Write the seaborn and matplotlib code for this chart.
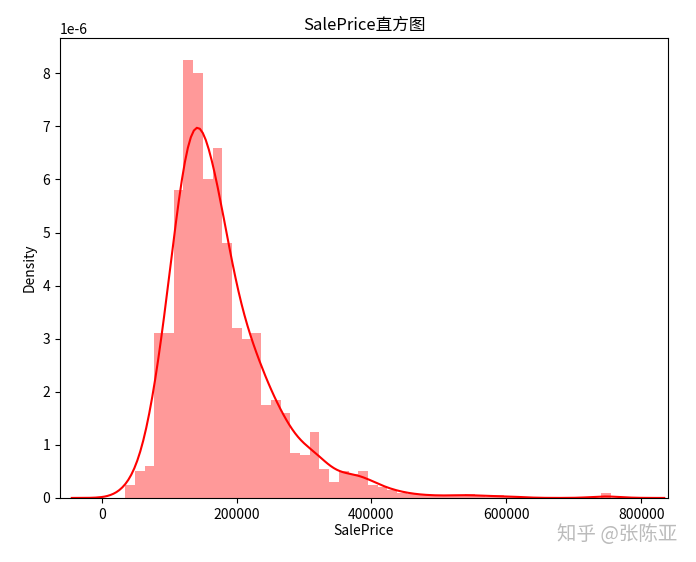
import numpy as np
import pandas as pd
import seaborn as sns
import matplotlib.pyplot as plt

plt.rcParams['font.family'] = ['Noto Sans CJK SC', 'DejaVu Sans']
plt.rcParams['axes.unicode_minus'] = False

# histogram: 50 bins from min to max SalePrice
price_min, price_max = 34900, 755000
density_e6 = [0.25, 0.5, 0.6, 3.1, 3.1, 5.8, 8.25, 8.0, 6.0, 6.6,
              4.8, 3.2, 3.0, 3.1, 1.75, 1.85, 1.6, 0.85, 0.8, 1.25,
              0.55, 0.3, 0.5, 0.45, 0.5, 0.25, 0.2, 0.15, 0.1, 0.07,
              0.05, 0.05, 0.04, 0.03, 0.06, 0.08, 0.03, 0.02, 0.05, 0.03,
              0.02, 0.0, 0.0, 0.0, 0.0, 0.0, 0.0, 0.0, 0.0, 0.1]

edges = np.linspace(price_min, price_max, len(density_e6) + 1)
df = pd.DataFrame({"SalePrice": (edges[:-1] + edges[1:]) / 2,
                   "w": np.array(density_e6) * 1e-6})

fig, ax = plt.subplots(figsize=(6.96, 5.62), dpi=100)
fig.subplots_adjust(left=0.086, right=0.96, top=0.932, bottom=0.114)
sns.histplot(data=df, x="SalePrice", weights="w", bins=len(density_e6),
             binrange=(price_min, price_max), stat="count",
             color="red", alpha=0.4, linewidth=0, ax=ax)
sns.kdeplot(data=df, x="SalePrice", weights="w", color="red", bw_adjust=0.45,
            linewidth=1.5, cut=2, ax=ax)
ax.set_title("SalePrice直方图")
ax.set_xlabel("SalePrice", labelpad=2)
ax.set_ylabel("Density")
ax.set_xticks([0, 200000, 400000, 600000, 800000])
ax.set_xlim(-62000, 840000)
ax.set_ylim(0, 8.66e-6)
fig.text(0.8, 0.04, "知乎 @张陈亚", color="#bbbbbb", fontsize=14)
fig.savefig("out.png", dpi=100)
